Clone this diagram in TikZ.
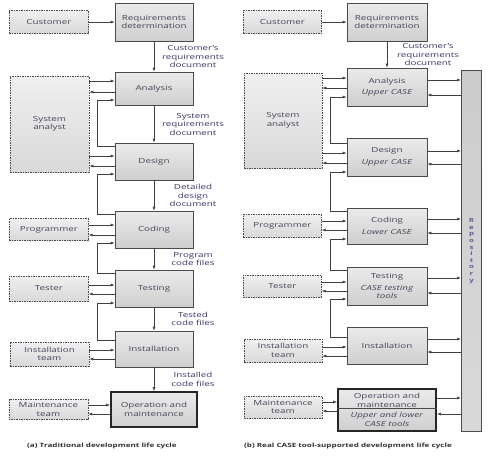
\documentclass[tikz,border=0pt]{standalone}
\usepackage{fontspec}
\setmainfont{Open Sans}[FakeStretch=1.4]
\usetikzlibrary{arrows.meta,positioning}
\definecolor{boxline}{HTML}{4A4A4A}
\definecolor{boxtext}{HTML}{45455A}
\definecolor{doctext}{HTML}{35356A}
\definecolor{repotext}{HTML}{6B5B95}

\begin{document}
\begin{tikzpicture}[
  x=1pt, y=-1pt,
  font=\fontsize{7}{8.5}\selectfont,
  node distance=26pt,
  stage/.style={draw=boxline, line width=.6pt, top color=gray!16, bottom color=gray!38, text=boxtext, align=center, minimum width=78pt, inner sep=1pt},
  actor/.style={stage, dash pattern=on 1.5pt off 1pt, top color=gray!12, bottom color=gray!30, minimum width=79pt},
  lastbox/.style={stage, draw=black!85, line width=1.6pt},
  doc/.style={text=doctext, align=center, xshift=39pt},
  subcap/.style={font=\fontsize{5.8}{7}\selectfont\bfseries, text=black!80},
  flow/.style={-{Latex[length=4pt, width=3pt]}, line width=.6pt, draw=black!75}
]
  \useasboundingbox (0,0) rectangle (491,456);

  % (a) traditional
  \node[stage, minimum height=38pt] (reqdet) at (154,22) {Requirements\\determination};
  \node[stage, minimum height=33pt] (analysis) at (154,88.5) {Analysis};
  \node[stage, minimum height=37pt] (design) at (154,161.5) {Design};
  \node[stage, minimum height=37pt] (coding) at (154,229.5) {Coding};
  \node[stage, minimum height=37pt] (testing) at (154,288.5) {Testing};
  \node[stage, minimum height=36pt] (install) at (154,349) {Installation};
  \node[lastbox, minimum width=86pt, minimum height=35pt] (operation) at (154,409.5) {Operation and\\maintenance};

  \node[actor, minimum height=23pt, left=of reqdet] (customer) {Customer};
  \node[actor, minimum height=96pt] (sysan) at (49.5,124) {System\\analyst};
  \node[actor, minimum height=22pt, left=of coding] (programmer) {Programmer};
  \node[actor, minimum height=25pt, left=of testing] (tester) {Tester};
  \node[actor, minimum height=24pt] (insteam) at (49.5,354) {Installation\\team};
  \node[actor, minimum height=20pt, left=22pt of operation] (mainteam) {Maintenance\\team};

  \draw[flow] (customer) -- (reqdet);
  \draw[flow] (reqdet) -- (analysis) node[doc, midway] {Customer's\\requirements\\document};
  \draw[flow] (analysis) -- (design) node[doc, midway] {System\\requirements\\document};
  \draw[flow] (design) -- (coding) node[doc, midway] {Detailed\\design\\document};
  \draw[flow] (coding) -- (testing) node[doc, midway] {Program\\code files};
  \draw[flow] (testing) -- (install) node[doc, midway] {Tested\\code files};
  \draw[flow] (install) -- (operation) node[doc, midway] {Installed\\code files};

  \draw[flow] (sysan.east |- 0,81) -- (analysis.west |- 0,81);
  \draw[flow] (analysis.west |- 0,92) -- (sysan.east |- 0,92);
  \draw[flow] (sysan.east |- 0,156) -- (design.west |- 0,156);
  \draw[flow] (design.west |- 0,166) -- (sysan.east |- 0,166);
  \draw[flow] (programmer.east |- 0,225) -- (coding.west |- 0,225);
  \draw[flow] (coding.west |- 0,235) -- (programmer.east |- 0,235);
  \draw[flow] (tester.east |- 0,285) -- (testing.west |- 0,285);
  \draw[flow] (testing.west |- 0,294) -- (tester.east |- 0,294);
  \draw[flow] (insteam.east |- 0,350) -- (install.west |- 0,350);
  \draw[flow] (install.west |- 0,359) -- (insteam.east |- 0,359);
  \draw[flow] (mainteam.east |- 0,405) -- (operation.west |- 0,405);
  \draw[flow] (operation.west |- 0,414) -- (mainteam.east |- 0,414);

  \draw[flow] (design.west |- 0,146) -- ++(-17,0) |- (analysis.west |- 0,100);
  \draw[flow] (coding.west |- 0,214) -- ++(-17,0) |- (design.west |- 0,174);
  \draw[flow] (testing.west |- 0,273) -- ++(-17,0) |- (coding.west |- 0,243);
  \draw[flow] (install.west |- 0,340) -- ++(-17,0) |- (testing.west |- 0,303);

  \node[subcap] (capa) at (102,446) {(a) Traditional development life cycle};

  % (b) CASE supported
  \node[stage, minimum width=80pt, minimum height=38pt] (reqdet2) at (387,22) {Requirements\\determination};
  \node[stage, minimum width=80pt, minimum height=38pt] (analysis2) at (387,87) {Analysis\\[3pt]\textit{Upper CASE}};
  \node[stage, minimum width=80pt, minimum height=38pt] (design2) at (387,157) {Design\\[3pt]\textit{Upper CASE}};
  \node[stage, minimum width=80pt, minimum height=36pt] (coding2) at (387,226) {Coding\\[3pt]\textit{Lower CASE}};
  \node[stage, minimum width=80pt, minimum height=38pt] (testing2) at (387,286) {Testing\\[3pt]\textit{CASE testing}\\\textit{tools}};
  \node[stage, minimum width=80pt, minimum height=37pt] (install2) at (387,345.5) {Installation};
  \node[lastbox, minimum width=98pt, minimum height=42pt, font=\fontsize{7}{9.5}\selectfont] (operation2) at (387,410) {Operation and\\maintenance\\\textit{Upper and lower}\\\textit{CASE tools}};
  \draw[boxline, line width=.5pt] (operation2.west |- 0,408) -- (operation2.east |- 0,408);
  \node[stage, draw=black!70, line width=1pt, top color=gray!40, bottom color=gray!30, minimum width=20pt, minimum height=361pt, text=repotext, font=\fontsize{5.6}{6.6}\selectfont\bfseries] (repo) at (471.5,251) {R\\e\\p\\o\\s\\i\\t\\o\\r\\y};

  \node[actor, minimum width=78pt, minimum height=23pt, left=25pt of reqdet2] (customer2) {Customer};
  \node[actor, minimum width=78pt, minimum height=95pt] (sysan2) at (283,120.5) {System\\analyst};
  \node[actor, minimum width=78pt, minimum height=23pt, left=25pt of coding2] (programmer2) {Programmer};
  \node[actor, minimum width=78pt, minimum height=22pt, left=25pt of testing2] (tester2) {Tester};
  \node[actor, minimum width=78pt, minimum height=23pt] (insteam2) at (283,350.5) {Installation\\team};
  \node[actor, minimum width=78pt, minimum height=22pt] (mainteam2) at (283,407) {Maintenance\\team};

  \draw[flow] (customer2) -- (reqdet2);
  \draw[flow] (reqdet2) -- (analysis2) node[doc, midway, xshift=2pt] {Customer's\\requirements\\document};

  \draw[flow] (sysan2.east |- 0,78) -- (analysis2.west |- 0,78);
  \draw[flow] (analysis2.west |- 0,88) -- (sysan2.east |- 0,88);
  \draw[flow] (sysan2.east |- 0,153) -- (design2.west |- 0,153);
  \draw[flow] (design2.west |- 0,163) -- (sysan2.east |- 0,163);
  \draw[flow] (programmer2.east |- 0,221) -- (coding2.west |- 0,221);
  \draw[flow] (coding2.west |- 0,230) -- (programmer2.east |- 0,230);
  \draw[flow] (tester2.east |- 0,282) -- (testing2.west |- 0,282);
  \draw[flow] (testing2.west |- 0,291) -- (tester2.east |- 0,291);
  \draw[flow] (insteam2.east |- 0,347) -- (install2.west |- 0,347);
  \draw[flow] (install2.west |- 0,356) -- (insteam2.east |- 0,356);
  \draw[flow] (mainteam2.east |- 0,402) -- (operation2.west |- 0,402);
  \draw[flow] (operation2.west |- 0,411) -- (mainteam2.east |- 0,411);

  \draw[flow] (design2.west |- 0,143) -- ++(-16,0) |- (analysis2.west |- 0,97);
  \draw[flow] (coding2.west |- 0,211) -- ++(-16,0) |- (design2.west |- 0,172);
  \draw[flow] (testing2.west |- 0,270) -- ++(-16,0) |- (coding2.west |- 0,239);
  \draw[flow] (install2.west |- 0,337) -- ++(-16,0) |- (testing2.west |- 0,299);

  \draw[flow] (analysis2.east |- 0,80) -- (repo.west |- 0,80);
  \draw[flow] (repo.west |- 0,95) -- (analysis2.east |- 0,95);
  \draw[flow] (design2.east |- 0,151) -- (repo.west |- 0,151);
  \draw[flow] (repo.west |- 0,164) -- (design2.east |- 0,164);
  \draw[flow] (coding2.east |- 0,219) -- (repo.west |- 0,219);
  \draw[flow] (repo.west |- 0,233) -- (coding2.east |- 0,233);
  \draw[flow] (testing2.east |- 0,278) -- (repo.west |- 0,278);
  \draw[flow] (repo.west |- 0,293) -- (testing2.east |- 0,293);
  \draw[flow] (install2.east |- 0,339) -- (repo.west |- 0,339);
  \draw[flow] (repo.west |- 0,352) -- (install2.east |- 0,352);
  \draw[flow] (operation2.east |- 0,398) -- (repo.west |- 0,398);
  \draw[flow] (repo.west |- 0,414) -- (operation2.east |- 0,414);

  \node[subcap] (capb) at (348,446) {(b) Real CASE tool-supported development life cycle};
\end{tikzpicture}
\end{document}
